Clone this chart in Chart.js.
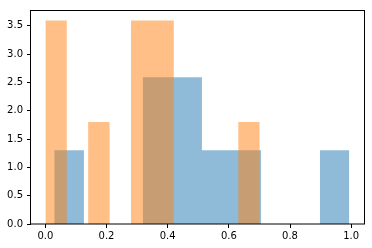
<!DOCTYPE html>
<html>
<head>
<meta charset="utf-8">
<script src="https://cdn.jsdelivr.net/npm/chart.js@4.4.1/dist/chart.umd.min.js"></script>
<style>
  html, body { margin: 0; padding: 0; background: #fff; }
</style>
</head>
<body>
<canvas id="hist" width="372" height="248"></canvas>
<script>
// bin edges + density heights
const blueEdges = [0.029, 0.126, 0.222, 0.319, 0.415, 0.512, 0.608, 0.705, 0.801, 0.898, 0.994];
const blueHeights = [1.30, 0, 0, 2.59, 2.59, 1.30, 1.30, 0, 0, 1.30];
const orangeEdges = [0.000, 0.070, 0.140, 0.210, 0.280, 0.350, 0.420, 0.491, 0.561, 0.631, 0.701];
const orangeHeights = [3.59, 0, 1.80, 0, 3.59, 3.59, 0, 0, 0, 1.80];

const xTicks = [0.0, 0.2, 0.4, 0.6, 0.8, 1.0];
const yTicks = [0.0, 0.5, 1.0, 1.5, 2.0, 2.5, 3.0, 3.5];

// turn edges/heights into step points (segment i holds height i)
function steps(edges, heights) {
  const pts = [{ x: edges[0], y: 0 }];
  edges.forEach((e, i) => {
    pts.push({ x: e, y: i < heights.length ? heights[i] : 0 });
  });
  return pts;
}

const tickFont = { family: "DejaVu Sans", size: 10 };

// matplotlib style box round the axes
const frame = {
  id: "frame",
  afterDraw(chart) {
    const { ctx, chartArea: a } = chart;
    ctx.save();
    ctx.strokeStyle = "#000";
    ctx.lineWidth = 1;
    ctx.strokeRect(Math.round(a.left) - 0.5, Math.round(a.top) + 0.5,
      Math.round(a.right - a.left) + 1, Math.round(a.bottom - a.top) - 0.5);
    ctx.restore();
  },
};

const data = {
  datasets: [
    {
      label: "a",
      data: steps(blueEdges, blueHeights),
      stepped: "before",
      fill: "origin",
      backgroundColor: "rgba(31, 119, 180, 0.5)",
      borderColor: "transparent",
      borderWidth: 0,
      pointRadius: 0,
      order: 2,
    },
    {
      label: "b",
      data: steps(orangeEdges, orangeHeights),
      stepped: "before",
      fill: "origin",
      backgroundColor: "rgba(255, 127, 14, 0.5)",
      borderColor: "transparent",
      borderWidth: 0,
      pointRadius: 0,
      order: 1,
    },
  ],
};

const config = {
  type: "line",
  data: data,
  options: {
    responsive: false,
    animation: false,
    layout: { padding: { top: 6, right: 8, left: 0, bottom: 0 } },
    plugins: { legend: { display: false }, tooltip: { enabled: false } },
    scales: {
      x: {
        type: "linear",
        min: -0.047,
        max: 1.042,
        afterBuildTicks: (s) => { s.ticks = xTicks.map((v) => ({ value: v })); },
        afterFit: (s) => { s.height = 24; },
        ticks: {
          font: tickFont,
          color: "#000",
          padding: 2,
          maxRotation: 0,
          callback: (v) => v.toFixed(1),
        },
        grid: { drawOnChartArea: false, drawTicks: true, tickLength: 4, tickColor: "#000" },
        border: { display: false },
      },
      y: {
        min: 0,
        max: 3.777,
        afterBuildTicks: (s) => { s.ticks = yTicks.map((v) => ({ value: v })); },
        afterFit: (s) => { s.width = 31; },
        ticks: {
          font: tickFont,
          color: "#000",
          padding: 4,
          callback: (v) => v.toFixed(1),
        },
        grid: { drawOnChartArea: false, drawTicks: true, tickLength: 4, tickColor: "#000" },
        border: { display: false },
      },
    },
  },
  plugins: [frame],
};

const histChart = new Chart(document.getElementById("hist"), config);
</script>
</body>
</html>
